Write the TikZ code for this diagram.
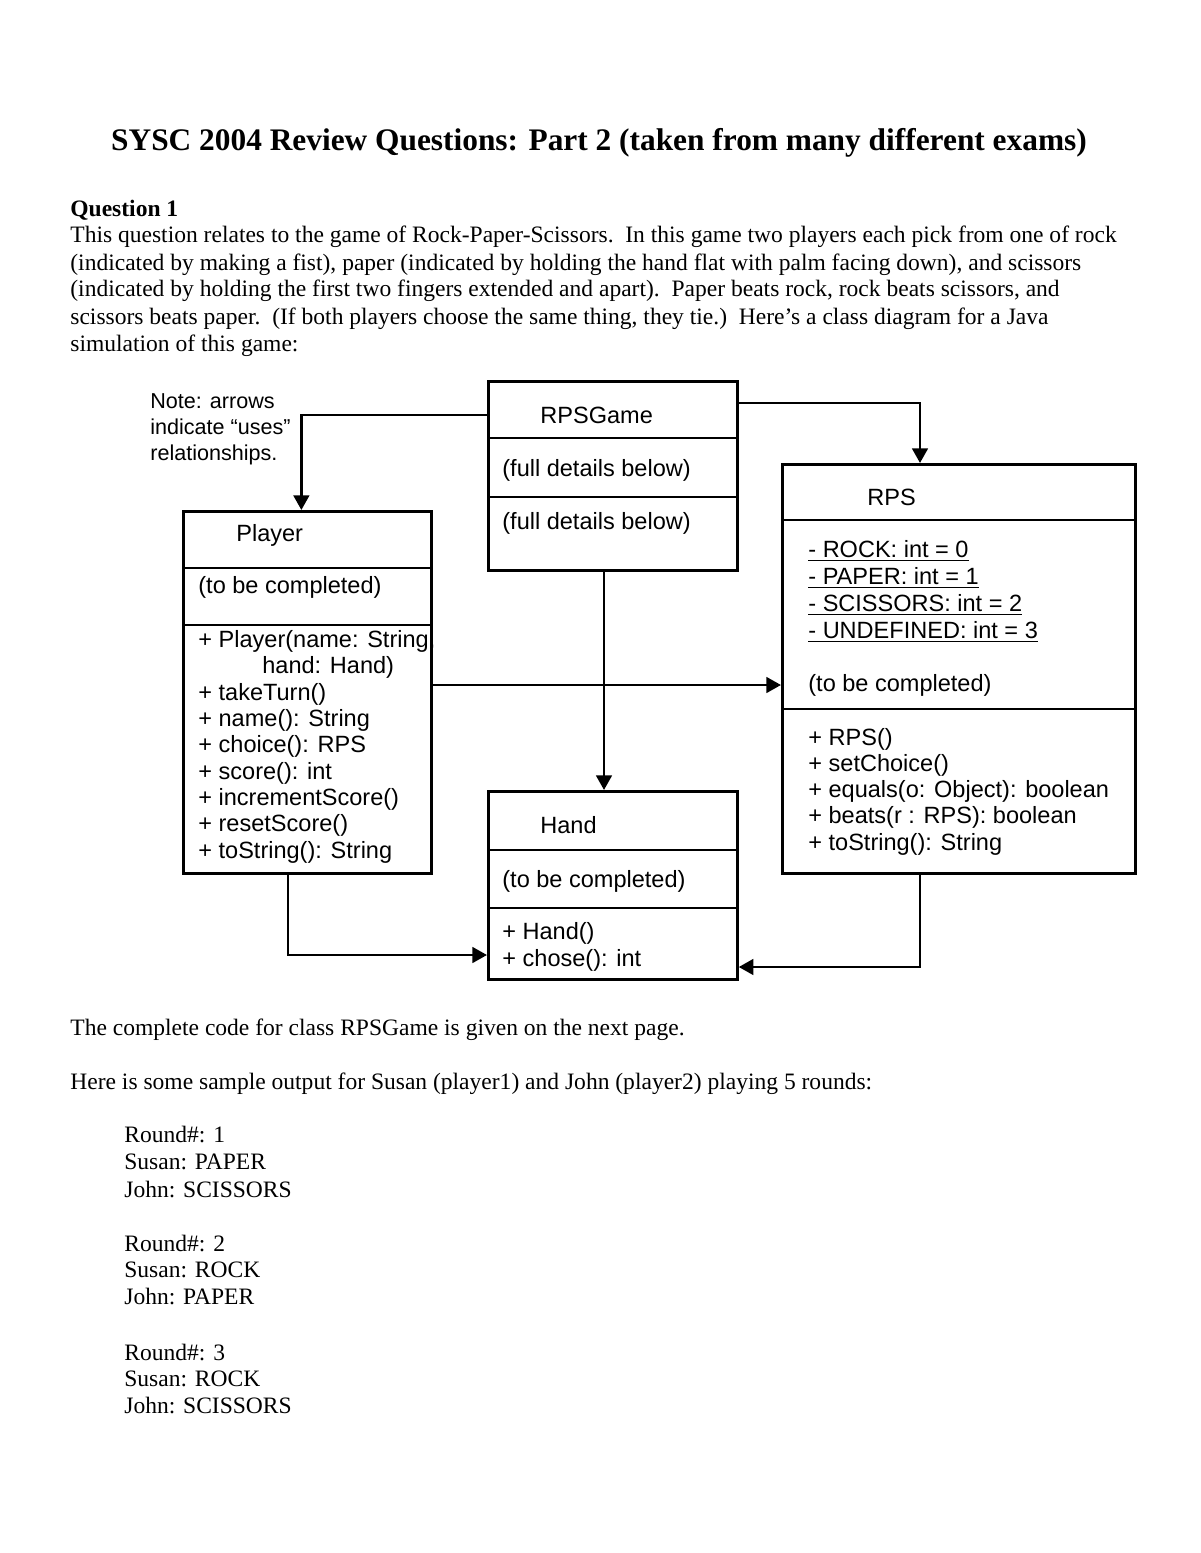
\documentclass[tikz,border=0pt]{standalone}
\usepackage{fontspec}
\setmainfont{Liberation Serif}
\newfontfamily\dsans{Liberation Sans}
\usetikzlibrary{arrows.meta,calc}
\begin{document}
\begin{tikzpicture}[x=0.51pt,y=-0.51pt,
  txt/.style={anchor=base west,inner sep=0pt,font=\fontsize{12}{14}\selectfont},
  dtxt/.style={anchor=base west,inner sep=0pt,font=\dsans\fontsize{12}{13.5}\selectfont},
  notetxt/.style={anchor=base west,inner sep=0pt,font=\dsans\fontsize{11}{13}\selectfont},
  box/.style={draw,line width=1.4pt,anchor=north west,inner sep=0pt},
  uses/.style={line width=1.4pt,-{Triangle[length=7.5pt,width=8pt]}},
  divider/.style={line width=1.4pt}]
\useasboundingbox (0,0) rectangle (1200,1553);
% title
\node[anchor=base,inner sep=0pt,font=\bfseries\fontsize{16}{18}\selectfont] (title) at (599,151) {SYSC 2004 Review Questions: Part 2 (taken from many different exams)};
\node[txt,font=\bfseries\fontsize{12}{14}\selectfont] (q1) at (70,216) {Question 1};
\node[txt] (p1) at (70,243) {This question relates to the game of Rock-Paper-Scissors.\ \ In this game two players each pick from one of rock};
\node[txt] (p2) at (70,270) {(indicated by making a fist), paper (indicated by holding the hand flat with palm facing down), and scissors};
\node[txt] (p3) at (70,297) {(indicated by holding the first two fingers extended and apart).\ \ Paper beats rock, rock beats scissors, and};
\node[txt] (p4) at (70,324) {scissors beats paper.\ \ (If both players choose the same thing, they tie.)\ \ Here’s a class diagram for a Java};
\node[txt] (p5) at (70,351) {simulation of this game:};

% note
\node[notetxt] (n1) at (150,408) {Note: arrows};
\node[notetxt] (n2) at (150,434) {indicate “uses”};
\node[notetxt] (n3) at (150,460) {relationships.};

% RPSGame
\node[box,minimum width=249*0.51pt,minimum height=189*0.51pt] (rpsgame) at (487,380) {};
\draw[divider] (487,438) -- (736,438);
\draw[divider] (487,497) -- (736,497);
\node[dtxt] (gname) at (540,423) {RPSGame};
\node[dtxt] (gattr) at (502,476) {(full details below)};
\node[dtxt] (gmeth) at (502,529) {(full details below)};

% Player
\node[box,minimum width=248*0.51pt,minimum height=362*0.51pt] (player) at (182,510) {};
\draw[divider] (182,568) -- (430,568);
\draw[divider] (182,625) -- (430,625);
\node[dtxt] (pname) at (236,541) {Player};
\node[dtxt] (pattr) at (198,593) {(to be completed)};
\node[dtxt] (pm1) at (198,647) {+ Player(name: String,};
\node[dtxt] (pm2) at (262,673) {hand: Hand)};
\node[dtxt] (pm3) at (198,700) {+ takeTurn()};
\node[dtxt] (pm4) at (198,726) {+ name(): String};
\node[dtxt] (pm5) at (198,752) {+ choice(): RPS};
\node[dtxt] (pm6) at (198,779) {+ score(): int};
\node[dtxt] (pm7) at (198,805) {+ incrementScore()};
\node[dtxt] (pm8) at (198,831) {+ resetScore()};
\node[dtxt] (pm9) at (198,858) {+ toString(): String};

% RPS
\node[box,minimum width=353*0.51pt,minimum height=409*0.51pt] (rps) at (781,463) {};
\draw[divider] (781,520) -- (1134,520);
\draw[divider] (781,709) -- (1134,709);
\node[dtxt] (rname) at (867,505) {RPS};
\node[dtxt] (ra1) at (808,557) {\underline{- ROCK: int = 0}};
\node[dtxt] (ra2) at (808,584) {\underline{- PAPER: int = 1}};
\node[dtxt] (ra3) at (808,611) {\underline{- SCISSORS: int = 2}};
\node[dtxt] (ra4) at (808,638) {\underline{- UNDEFINED: int = 3}};
\node[dtxt] (ra5) at (808,691) {(to be completed)};
\node[dtxt] (rm1) at (808,745) {+ RPS()};
\node[dtxt] (rm2) at (808,771) {+ setChoice()};
\node[dtxt] (rm3) at (808,797) {+ equals(o: Object): boolean};
\node[dtxt] (rm4) at (808,823) {+ beats(r : RPS): boolean};
\node[dtxt] (rm5) at (808,850) {+ toString(): String};

% Hand
\node[box,minimum width=249*0.51pt,minimum height=188*0.51pt] (hand) at (487,790) {};
\draw[divider] (487,850) -- (736,850);
\draw[divider] (487,908) -- (736,908);
\node[dtxt] (hname) at (540,833) {Hand};
\node[dtxt] (hattr) at (502,887) {(to be completed)};
\node[dtxt] (hm1) at (502,939) {+ Hand()};
\node[dtxt] (hm2) at (502,966) {+ chose(): int};

% connectors
\coordinate (gL) at ($(rpsgame.north west)+(0,35)$);
\coordinate (gR) at ($(rpsgame.north east)+(0,23)$);
\draw[uses] (gL) -| ($(player.north)+(-6,0)$);
\draw[uses] (gR) -| ($(rps.north west)+(139,0)$);
\draw[uses] ($(rpsgame.south west)+(117,0)$) -- ($(hand.north west)+(117,0)$);
\draw[uses] ($(player.north east)+(0,175)$) -- ($(rps.north west)+(0,222)$);
\draw[uses] ($(player.south west)+(106,0)$) |- ($(hand.north west)+(0,165)$);
\draw[uses] ($(rps.south west)+(139,0)$) |- ($(hand.north east)+(0,177)$);

% text below
\node[txt] (t1) at (70,1035) {The complete code for class RPSGame is given on the next page.};
\node[txt] (t2) at (70,1089) {Here is some sample output for Susan (player1) and John (player2) playing 5 rounds:};
\node[txt] (o1) at (124,1142) {Round\#: 1};
\node[txt] (o2) at (124,1169) {Susan: PAPER};
\node[txt] (o3) at (124,1197) {John: SCISSORS};
\node[txt] (o4) at (124,1251) {Round\#: 2};
\node[txt] (o5) at (124,1277) {Susan: ROCK};
\node[txt] (o6) at (124,1304) {John: PAPER};
\node[txt] (o7) at (124,1360) {Round\#: 3};
\node[txt] (o8) at (124,1386) {Susan: ROCK};
\node[txt] (o9) at (124,1413) {John: SCISSORS};
\end{tikzpicture}
\end{document}
